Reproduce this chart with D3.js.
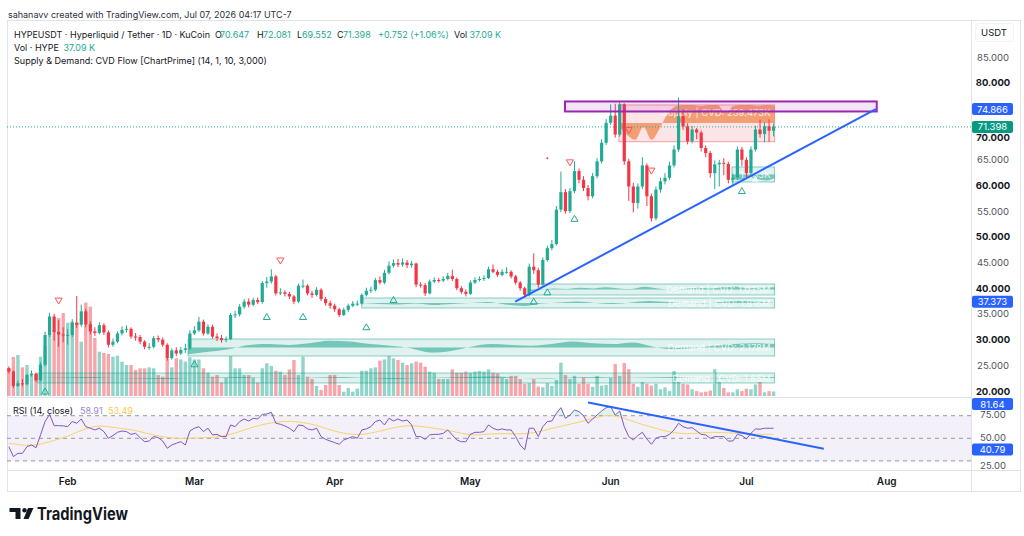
<!DOCTYPE html>
<html>
<head>
<meta charset="utf-8">
<script src="https://cdn.jsdelivr.net/npm/d3@7"></script>
<style>
body { margin: 0; background: #fff; }
text { font-family: Inter, "Noto Sans", "DejaVu Sans", sans-serif; }
</style>
</head>
<body>
<script>
// HYPEUSDT daily, Jan 19 - Jul 7 2026 (one value per day)
var firstDay = Date.UTC(2026, 0, 19);
var firstOpen = 24.4;

var closes = [
  23.8, 21.0, 21.5, 21.3, 23.1, 23.4, 22.1, 25.1, 30.9, 34.5,
  31.5, 31.0, 30.8, 30.9, 33.3, 32.9, 35.5, 33.0, 31.6, 31.3,
  32.8, 31.4, 29.0, 29.6, 31.2, 31.9, 32.1, 30.6, 30.5, 29.6,
  28.6, 28.6, 30.3, 30.0, 29.0, 26.4, 27.9, 27.3, 28.0, 28.3,
  31.2, 31.8, 33.5, 31.2, 32.5, 30.6, 30.3, 29.9, 30.1, 34.8,
  34.9, 36.4, 37.4, 36.8, 37.7, 37.3, 41.0, 41.3, 42.3, 39.0,
  39.2, 38.9, 38.4, 37.4, 40.5, 40.5, 39.0, 38.7, 39.7, 37.9,
  37.1, 36.6, 35.9, 34.8, 35.8, 36.6, 37.0, 37.0, 38.7, 39.5,
  39.7, 41.6, 41.1, 43.0, 44.4, 44.9, 44.6, 45.0, 44.5, 44.8,
  40.7, 40.6, 39.0, 41.3, 41.6, 41.5, 41.8, 42.4, 41.8, 40.0,
  39.3, 38.9, 41.1, 41.6, 41.8, 42.0, 43.7, 43.2, 42.6, 43.2,
  43.2, 42.3, 41.1, 40.0, 38.7, 44.2, 43.5, 40.7, 45.5, 47.8,
  48.6, 55.3, 58.7, 55.0, 58.9, 62.8, 61.1, 59.5, 57.9, 61.8,
  64.7, 68.3, 72.2, 73.6, 69.9, 75.8, 64.7, 59.8, 56.6, 59.8,
  63.9, 57.9, 53.6, 59.2, 60.8, 61.5, 63.9, 67.0, 73.5, 71.5,
  68.6, 70.9, 70.3, 67.3, 66.3, 62.4, 64.1, 64.4, 64.2, 61.1,
  61.5, 67.0, 65.0, 62.4, 67.0, 70.9, 70.0, 71.5, 70.647, 71.398
];
var highs = [
  24.8, 24.0, 22.0, 22.3, 23.4, 24.0, 23.6, 25.6, 31.5, 35.2,
  35.0, 33.8, 32.4, 32.0, 34.0, 38.5, 36.8, 36.0, 33.6, 32.4,
  33.4, 33.2, 31.8, 30.2, 31.6, 32.6, 32.8, 32.4, 31.3, 30.9,
  29.9, 29.3, 30.7, 30.8, 30.4, 29.3, 28.3, 28.5, 28.6, 29.2,
  31.8, 32.6, 34.4, 33.9, 33.0, 32.9, 31.2, 30.9, 30.6, 35.2,
  35.6, 36.9, 37.9, 38.0, 38.1, 38.2, 41.4, 42.2, 43.7, 42.6,
  40.0, 39.6, 39.3, 38.7, 40.9, 41.7, 40.8, 39.5, 40.2, 40.0,
  38.3, 37.6, 37.0, 36.2, 36.2, 37.0, 37.5, 37.6, 39.0, 40.1,
  40.3, 42.0, 42.3, 43.6, 45.2, 45.6, 45.7, 45.8, 45.5, 45.3,
  45.0, 41.2, 41.0, 41.7, 42.1, 42.0, 42.3, 43.0, 43.6, 42.1,
  40.4, 39.8, 41.5, 42.1, 42.3, 42.5, 44.2, 44.6, 43.6, 43.7,
  44.1, 43.5, 42.6, 41.4, 40.3, 44.8, 46.8, 44.0, 46.0, 48.3,
  49.4, 56.0, 62.7, 59.3, 59.5, 64.7, 63.3, 61.8, 60.1, 62.4,
  65.3, 69.0, 72.9, 75.8, 75.9, 76.2, 76.0, 65.2, 60.5, 60.4,
  65.5, 64.3, 58.4, 59.8, 61.5, 62.4, 64.6, 67.8, 77.1, 74.8,
  72.1, 71.6, 71.2, 70.7, 67.8, 66.7, 64.9, 65.0, 65.3, 64.6,
  62.3, 67.6, 67.5, 65.5, 67.6, 71.6, 72.8, 72.3, 72.9, 72.081
];
var lows = [
  23.4, 20.6, 20.8, 20.9, 21.1, 22.8, 21.7, 21.9, 24.8, 30.5,
  29.8, 28.6, 29.5, 29.0, 30.5, 32.3, 32.5, 32.4, 31.0, 30.7,
  31.0, 30.9, 28.5, 28.6, 29.3, 30.8, 31.4, 30.2, 29.8, 29.1,
  28.1, 28.0, 28.3, 29.5, 28.6, 25.9, 26.1, 26.8, 27.0, 27.4,
  28.0, 30.9, 31.5, 30.8, 30.9, 30.2, 29.7, 29.4, 29.5, 29.9,
  34.2, 34.5, 36.0, 36.3, 36.5, 36.9, 37.0, 40.1, 40.9, 38.6,
  38.7, 38.4, 37.9, 36.9, 37.1, 40.0, 38.6, 38.1, 38.4, 37.5,
  36.6, 36.0, 35.4, 34.4, 34.6, 35.4, 36.3, 36.5, 36.8, 38.4,
  39.1, 39.4, 40.7, 40.8, 42.7, 44.0, 44.1, 44.2, 43.9, 44.0,
  40.2, 40.1, 38.5, 38.8, 41.0, 41.1, 41.2, 41.5, 41.4, 39.6,
  38.9, 38.4, 38.7, 40.8, 41.3, 41.4, 41.8, 42.9, 42.2, 42.3,
  42.8, 41.9, 40.7, 39.5, 38.2, 38.4, 42.8, 40.1, 40.5, 45.2,
  47.4, 48.3, 54.8, 54.5, 54.6, 58.5, 60.4, 58.9, 57.1, 57.5,
  61.4, 64.3, 67.9, 71.8, 69.3, 69.5, 64.0, 57.0, 54.8, 55.5,
  59.3, 56.0, 53.0, 53.2, 58.6, 60.2, 61.1, 63.5, 66.6, 70.8,
  68.0, 68.2, 69.0, 66.6, 65.5, 61.5, 59.3, 59.8, 62.0, 60.4,
  60.1, 61.0, 63.8, 61.6, 62.0, 66.6, 69.3, 68.4, 68.5, 69.552
];
// volume in thousands of HYPE
var volumes = [
  230, 320, 336, 235, 254, 172, 172, 322, 410, 500,
  540, 640, 680, 600, 610, 600, 445, 765, 732, 475,
  363, 353, 345, 322, 330, 282, 254, 254, 213, 227,
  227, 235, 227, 172, 158, 309, 235, 309, 300, 282,
  318, 300, 300, 227, 190, 158, 172, 110, 148, 328,
  227, 227, 172, 172, 148, 110, 227, 268, 246, 207,
  200, 172, 218, 295, 172, 322, 158, 139, 82, 50,
  90, 172, 172, 90, 35, 65, 35, 60, 207, 207,
  227, 235, 290, 300, 328, 309, 295, 273, 254, 268,
  282, 273, 240, 200, 190, 139, 139, 139, 218, 190,
  190, 200, 190, 200, 205, 200, 218, 190, 185, 150,
  139, 165, 165, 139, 100, 105, 139, 77, 72, 105,
  82, 131, 273, 172, 140, 165, 100, 150, 100, 75,
  165, 85, 90, 150, 262, 165, 270, 220, 100, 75,
  115, 100, 85, 100, 55, 70, 40, 205, 115, 100,
  95, 55, 40, 30, 35, 45, 220, 115, 65, 30,
  30, 55, 40, 60, 55, 95, 115, 30, 40, 37.09
];
var rsiValues = [
  42.6, 33.8, 36.7, 36.7, 42.6, 44.1, 41.7, 53.0, 64.8, 71.2,
  61.2, 61.2, 61.0, 60.3, 64.8, 63.3, 67.1, 60.3, 58.9, 57.4,
  58.9, 55.9, 50.0, 52.4, 55.3, 56.5, 55.9, 53.5, 54.4, 50.6,
  47.0, 47.6, 51.5, 50.6, 47.6, 41.2, 44.1, 45.6, 47.0, 44.1,
  56.5, 58.9, 60.3, 55.9, 58.9, 53.0, 53.5, 51.5, 51.5, 61.8,
  60.3, 64.8, 67.1, 65.3, 67.7, 67.1, 71.2, 71.5, 73.0, 63.3,
  62.4, 61.0, 58.9, 55.9, 61.8, 61.2, 58.3, 57.4, 58.9, 51.5,
  49.1, 47.6, 46.2, 44.7, 48.5, 50.0, 51.5, 50.0, 57.4, 58.3,
  60.3, 64.8, 66.2, 61.8, 67.7, 65.3, 67.1, 65.3, 66.2, 61.8,
  51.5, 51.5, 49.1, 53.0, 53.5, 53.5, 54.4, 57.4, 53.0, 48.5,
  47.0, 47.0, 53.5, 55.3, 55.3, 55.9, 61.8, 58.9, 57.4, 58.3,
  57.4, 57.4, 51.5, 44.1, 39.7, 58.9, 58.9, 51.5, 60.3, 64.8,
  65.3, 72.1, 77.1, 67.7, 70.6, 75.1, 73.6, 70.0, 63.3, 67.1,
  70.6, 74.2, 77.1, 78.0, 70.6, 74.2, 60.3, 51.5, 48.5, 52.4,
  55.3, 49.4, 44.7, 50.0, 51.5, 51.5, 53.5, 57.4, 63.3, 60.3,
  58.9, 59.4, 56.5, 53.5, 53.0, 50.0, 51.5, 51.5, 51.5, 47.6,
  47.6, 53.5, 52.4, 49.4, 54.4, 58.3, 58.0, 58.9, 58.9, 58.91
];
// RSI-based moving average, read at these day indices
var rsiMaDays = [0, 5, 9, 13, 17, 20, 24, 28, 31, 35, 39, 42, 46, 50, 53, 57, 61, 64, 68, 72,
  76, 79, 83, 87, 90, 94, 98, 102, 105, 109, 113, 117, 120, 124, 128, 132, 135, 139, 143, 146,
  150, 154, 157, 161, 165, 169];
var rsiMaValues = [45.6, 42.6, 47.0, 51.5, 58.9, 61.8, 58.9, 57.4, 53.5, 50.6, 49.4, 50.6, 50.6, 54.4, 58.9, 63.3, 65.3, 64.8, 61.8, 55.9,
  53.0, 53.5, 57.4, 61.2, 61.2, 58.9, 56.5, 52.4, 53.5, 54.4, 53.5, 55.3, 58.9, 62.4, 66.2, 71.2, 69.2, 63.3, 58.9, 55.3,
  53.5, 55.3, 55.3, 54.4, 53.5, 53.49];

// CVD Flow zones (prices), start day index, all end at the last bar
var zoneKinds = ["Supply", "Demand", "Demand", "Demand", "Demand", "Demand"];
var zoneTops = [75.67, 63.6, 40.83, 38.1, 30.12, 23.5];
var zoneBottoms = [68.52, 60.68, 38.68, 36.15, 26.81, 21.56];
var zoneStarts = [134.8, 159.8, 114.7, 78.0, 39.6, 6.4];
var zoneLabels = ["Supply | CVD: 259.473K", "71.283K", "Demand | CVD: 1.035M", "Demand | CVD: 1.816M",
  "Demand | CVD: 2.178M", "Demand | CVD: 1.65M"];
// CVD wave inside each zone, 0 = zone bottom, 1 = zone top, evenly spread across the zone
var zoneWaves = [
  [0.43, 0.19, 0.05, 0.40, 0.05, 0.37, 0.78, 0.97, 1.0, 1.0, 0.97, 1.0, 1.0, 0.81, 0.97, 1.0, 1.0, 0.97, 1.0, 0.97],
  [0.2, 0.15, 0.3, 0.2, 0.1, 0.25],
  [0.3, 0.45, 0.6, 0.55, 0.65, 0.6, 0.7, 0.6, 0.55, 0.75, 0.6, 0.5, 0.55, 0.65, 0.6, 0.7, 0.75, 0.6, 0.65, 0.7],
  [0.5, 0.4, 0.35, 0.45, 0.3, 0.4, 0.5, 0.6, 0.35, 0.2, 0.45, 0.55, 0.65, 0.5, 0.4, 0.55, 0.7, 0.6, 0.5, 0.45, 0.6, 0.7, 0.65, 0.5],
  [0.1, 0.25, 0.4, 0.65, 0.7, 0.65, 0.75, 0.9, 0.85, 0.7, 0.6, 0.45, 0.2, 0.3, 0.55, 0.7, 0.65, 0.6, 0.7, 0.85,
    0.75, 0.7, 0.8, 0.55, 0.4, 0.45, 0.6, 0.7, 0.75, 0.7],
  [0.5, 0.55, 0.6, 0.5, 0.45, 0.4, 0.5, 0.55, 0.6, 0.5, 0.45, 0.55, 0.6, 0.5, 0.4, 0.5, 0.55, 0.6, 0.65, 0.5,
    0.45, 0.55, 0.6, 0.5, 0.55, 0.6, 0.5, 0.45, 0.55, 0.6]
];
var zoneMids = [72.16, 62.14, 39.75, 37.12, 28.46, 22.53];

// signal markers
var signalDays = [11, 60, 124, 137, 142, 8, 41, 57, 65, 79, 85, 116, 119, 125, 162, 165];
var signalPrices = [37.5, 45.3, 64.4, 70.7, 62.8, 20.0, 25.3, 34.5, 34.5, 32.5, 37.8, 37.5, 39.3, 53.6, 59.0, 61.3];
var signalDirs = ["down", "down", "down", "down", "down", "up", "up", "up", "up", "up", "up", "up", "up", "up", "up", "upfill"];

// drawn trend lines: [day, value]
var priceTrend = [[111.9, 37.373], [191.6, 74.866]];
var rsiTrend = [[128, 81.64], [180.1, 40.79]];
var rangeBoxDays = [122.9, 191.8];
var rangeBoxPrices = [76.35, 74.4];

// 75.000 sits fully under the 74.866 label in the original, so it is not listed
var priceTicks = [85, 80, 70, 65, 60, 55, 50, 45, 40, 35, 30, 25, 20];
var rsiTicks = [75, 50, 25];
var monthTicks = [Date.UTC(2026, 1, 1), Date.UTC(2026, 2, 1), Date.UTC(2026, 3, 1), Date.UTC(2026, 4, 1),
  Date.UTC(2026, 5, 1), Date.UTC(2026, 6, 1), Date.UTC(2026, 7, 1)];
var monthLabels = ["Feb", "Mar", "Apr", "May", "Jun", "Jul", "Aug"];

var upColor = "#22ab94", downColor = "#f23645", ink = "#131722";
var left = 7, right = 971, paneTop = 20, paneBottom = 397, rsiBottom = 470, frameBottom = 491;

function dayDate(i) { return new Date(firstDay + i * 864e5); }

var x = d3.scaleUtc()
    .domain([new Date(Date.UTC(2026, 1, 1)), new Date(Date.UTC(2026, 7, 1))])
    .range([67.7, 886.7]);
var y = d3.scaleLinear().domain([20, 80]).range([391, 82.7]);
var yVol = d3.scaleLinear().domain([0, 800]).range([396, 298.4]);
var yRsi = d3.scaleLinear().domain([30, 70]).range([460.9, 415.7]);

var bars = closes.map(function(c, i) {
  var o = i === 0 ? firstOpen : closes[i - 1];
  return { i: i, date: dayDate(i), o: o, h: highs[i], l: lows[i], c: c, v: volumes[i], up: c >= o };
});

var svg = d3.select("body").append("svg")
    .attr("width", 1024)
    .attr("height", 536);

svg.append("defs").append("clipPath").attr("id", "pane")
  .append("rect").attr("x", left).attr("y", paneTop).attr("width", right - left).attr("height", paneBottom - paneTop);
svg.select("defs").append("clipPath").attr("id", "rsipane")
  .append("rect").attr("x", left).attr("y", paneBottom).attr("width", right - left).attr("height", rsiBottom - paneBottom);

// put a text at x and scale its font so it spans the given width
function fitText(xPos, yPos, width, str, col) {
  var t = svg.append("text").attr("x", xPos).attr("y", yPos).attr("font-size", 10).attr("fill", col || ink).text(str);
  t.attr("font-size", 10 * width / t.node().getComputedTextLength());
  return t;
}
function plainText(xPos, yPos, size, str, col) {
  return svg.append("text").attr("x", xPos).attr("y", yPos).attr("font-size", size).attr("fill", col || ink).text(str);
}

// header
fitText(8, 17.5, 284, "sahanavv created with TradingView.com, Jul 07, 2026 04:17 UTC-7", "#2a2e39");

// frame
svg.append("rect").attr("x", left + 0.5).attr("y", paneTop + 0.5).attr("width", 1013).attr("height", frameBottom - paneTop)
  .attr("fill", "none").attr("stroke", "#e0e3eb");
svg.append("line").attr("x1", right + 0.5).attr("x2", right + 0.5).attr("y1", paneTop).attr("y2", frameBottom)
  .attr("stroke", "#e0e3eb");
svg.append("line").attr("x1", left).attr("x2", right).attr("y1", paneBottom + 0.5).attr("y2", paneBottom + 0.5)
  .attr("stroke", "#e0e3eb");
svg.append("line").attr("x1", left).attr("x2", 1020).attr("y1", rsiBottom + 0.5).attr("y2", rsiBottom + 0.5)
  .attr("stroke", "#e0e3eb");

var pane = svg.append("g").attr("clip-path", "url(#pane)");

// volume
pane.selectAll(".vol").data(bars).enter().append("rect")
    .attr("class", "vol")
    .attr("x", function(d) { return x(d.date) - 1.7; })
    .attr("width", 3.4)
    .attr("y", function(d) { return yVol(d.v); })
    .attr("height", function(d) { return yVol(0) - yVol(d.v); })
    .attr("fill", function(d) { return d.up ? "rgba(34,171,148,0.5)" : "rgba(242,54,69,0.45)"; });

// supply / demand zones
zoneKinds.forEach(function(kind, k) {
  var x0 = x(dayDate(zoneStarts[k])), x1 = x(dayDate(169)) + 1;
  var yt = y(zoneTops[k]), yb = y(zoneBottoms[k]);
  var supply = kind === "Supply";
  pane.append("rect")
    .attr("x", x0).attr("y", yt).attr("width", x1 - x0).attr("height", yb - yt)
    .attr("fill", supply ? "rgba(242,54,69,0.13)" : "rgba(8,153,129,0.13)")
    .attr("stroke", supply ? "rgba(242,54,69,0.45)" : "rgba(8,153,129,0.45)");
  var wave = zoneWaves[k];
  var wx = d3.scaleLinear().domain([0, wave.length - 1]).range([x0, x1]);
  var area = d3.area()
      .x(function(d, j) { return wx(j); })
      .y0(y(zoneMids[k]))
      .y1(function(d) { return yb + (yt - yb) * d; })
      .curve(d3.curveMonotoneX);
  pane.append("path").datum(wave).attr("d", area)
    .attr("fill", supply ? "rgba(240,128,70,0.7)" : "rgba(8,153,129,0.5)");
  pane.append("text")
    .attr("x", x1 - 4).attr("y", supply ? y(zoneTops[k]) + 11 : (yt + yb) / 2 + 3.5)
    .attr("text-anchor", "end").attr("font-size", 9.5)
    .attr("fill", "rgba(255,255,255,0.85)")
    .text(zoneLabels[k]);
});

// current price line
pane.append("line").attr("x1", left).attr("x2", right)
  .attr("y1", y(71.398)).attr("y2", y(71.398))
  .attr("stroke", upColor).attr("stroke-dasharray", "1,2");

// candles
var candles = pane.selectAll(".candle").data(bars).enter().append("g").attr("class", "candle");
candles.append("line")
    .attr("x1", function(d) { return x(d.date); })
    .attr("x2", function(d) { return x(d.date); })
    .attr("y1", function(d) { return y(d.h); })
    .attr("y2", function(d) { return y(d.l); })
    .attr("stroke", function(d) { return d.up ? upColor : downColor; });
candles.append("rect")
    .attr("x", function(d) { return x(d.date) - 1.6; })
    .attr("width", 3.2)
    .attr("y", function(d) { return y(Math.max(d.o, d.c)); })
    .attr("height", function(d) { return Math.max(1, Math.abs(y(d.o) - y(d.c))); })
    .attr("fill", function(d) { return d.up ? upColor : downColor; });

// range box and trend line
var bx0 = x(dayDate(rangeBoxDays[0])), bx1 = x(dayDate(rangeBoxDays[1]));
pane.append("rect").attr("x", bx0).attr("y", y(rangeBoxPrices[0]))
  .attr("width", bx1 - bx0).attr("height", y(rangeBoxPrices[1]) - y(rangeBoxPrices[0]))
  .attr("fill", "rgba(156,39,176,0.12)").attr("stroke", "#9c27b0").attr("stroke-width", 2);

var trendLine = d3.line()
    .x(function(d) { return x(dayDate(d[0])); })
    .y(function(d) { return y(d[1]); });
pane.append("path").attr("d", trendLine(priceTrend))
  .attr("stroke", "#2962ff").attr("stroke-width", 2).attr("fill", "none");

// signal markers
signalDays.forEach(function(d, k) {
  var cx = x(dayDate(d)), cy = y(signalPrices[k]);
  var dir = signalDirs[k];
  var pts = dir === "down"
    ? [[cx - 3.5, cy - 3], [cx + 3.5, cy - 3], [cx, cy + 3]]
    : [[cx - 3.5, cy + 3], [cx + 3.5, cy + 3], [cx, cy - 3]];
  pane.append("path").attr("d", "M" + pts.join("L") + "Z")
    .attr("fill", dir === "upfill" ? "rgba(255,255,255,0.8)" : "none")
    .attr("stroke", dir === "down" ? "#f7525f" : (dir === "upfill" ? "none" : "#22ab94"))
    .attr("stroke-width", 1);
});
pane.append("circle").attr("cx", x(dayDate(119))).attr("cy", y(65.3)).attr("r", 1).attr("fill", "#f23645");

// RSI pane
var rsiG = svg.append("g").attr("clip-path", "url(#rsipane)");
rsiG.append("rect").attr("x", left).attr("width", right - left)
  .attr("y", yRsi(70)).attr("height", yRsi(30) - yRsi(70)).attr("fill", "rgba(126,87,194,0.09)");
[70, 50, 30].forEach(function(v) {
  rsiG.append("line").attr("x1", left).attr("x2", right).attr("y1", yRsi(v)).attr("y2", yRsi(v))
    .attr("stroke", "#9598a1").attr("stroke-dasharray", "4,4").attr("stroke-width", 1);
});
var rsiPts = bars.map(function(d) { return { date: d.date, r: rsiValues[d.i] }; });
rsiG.append("path").datum(rsiPts)
  .attr("d", d3.area()
    .x(function(d) { return x(d.date); })
    .y0(yRsi(70))
    .y1(function(d) { return yRsi(Math.max(70, d.r)); }))
  .attr("fill", "rgba(34,171,148,0.15)");
rsiG.append("path").datum(rsiMaDays)
  .attr("d", d3.line()
    .x(function(d) { return x(dayDate(d)); })
    .y(function(d, j) { return yRsi(rsiMaValues[j]); })
    .curve(d3.curveBasis))
  .attr("fill", "none").attr("stroke", "#f6d36b").attr("stroke-width", 1);
rsiG.append("path").datum(rsiPts)
  .attr("d", d3.line().x(function(d) { return x(d.date); }).y(function(d) { return yRsi(d.r); }))
  .attr("fill", "none").attr("stroke", "#7e57c2").attr("stroke-width", 1);
rsiG.append("path")
  .attr("d", d3.line().x(function(d) { return x(dayDate(d[0])); }).y(function(d) { return yRsi(d[1]); })(rsiTrend))
  .attr("stroke", "#2962ff").attr("stroke-width", 2).attr("fill", "none");

// RSI legend
var rsiFont = +fitText(13, 413.5, 60, "RSI (14, close)").attr("font-size");
plainText(80, 413.5, rsiFont, "58.91", "#9b87d4");
plainText(108, 413.5, rsiFont, "53.49", "#f2cb4c");

// main legend
var lf = +fitText(14, 37.5, 196, "HYPEUSDT · Hyperliquid / Tether · 1D · KuCoin").attr("font-size");
[["O", 215, 0], ["70.647", 220, 1], ["H", 257, 0], ["72.081", 263, 1], ["L", 297, 0], ["69.552", 302, 1],
  ["C", 337, 0], ["71.398", 343, 1], ["+0.752 (+1.06%)", 378, 1], ["Vol", 454, 0], ["37.09 K", 469.5, 1]]
  .forEach(function(p) { plainText(p[1], 37.5, lf, p[0], p[2] ? upColor : ink); });
plainText(14, 50.5, lf, "Vol · HYPE");
plainText(63.5, 50.5, lf, "37.09 K", upColor);
fitText(14, 63.5, 253, "Supply & Demand: CVD Flow [ChartPrime] (14, 1, 10, 3,000)");

// price axis
svg.append("rect").attr("x", 975.5).attr("y", 23.5).attr("width", 38).attr("height", 18).attr("rx", 3)
  .attr("fill", "#fff").attr("stroke", "#f0f3fa");
svg.append("text").attr("x", 994).attr("y", 36).attr("text-anchor", "middle").attr("font-size", 9.5)
  .attr("fill", ink).text("USDT");
svg.selectAll(".ptick").data(priceTicks).enter().append("text")
    .attr("class", "ptick")
    .attr("x", 993)
    // 70.000 is partly covered by the last-price label; nudge it just below
    .attr("y", function(d) { return (d === 70 ? y(d) + 3 : y(d)) + 3.5; })
    .attr("text-anchor", "middle").attr("font-size", 9.5)
    .attr("font-weight", function(d) { return d % 10 === 0 ? 700 : 400; })
    .attr("fill", function(d) { return d % 10 === 0 ? ink : "#50535e"; })
    .text(function(d) { return d3.format(".3f")(d); });
svg.selectAll(".rtick").data(rsiTicks).enter().append("text")
    .attr("class", "rtick")
    .attr("x", 993).attr("y", function(d) { return (d === 75 ? 414.5 : d === 50 ? 437 : 465) + 3.5; })
    .attr("text-anchor", "middle").attr("font-size", 9.5).attr("fill", "#50535e")
    .text(function(d) { return d3.format(".2f")(d); });

function priceLabel(yPos, txt, col) {
  svg.append("rect").attr("x", 972).attr("y", yPos - 6).attr("width", 41).attr("height", 12).attr("rx", 2)
    .attr("fill", col);
  svg.append("text").attr("x", 992.5).attr("y", yPos + 3.5).attr("text-anchor", "middle").attr("font-size", 9.5)
    .attr("fill", "#fff").text(txt);
}
priceLabel(y(74.866), "74.866", "#2962ff");
priceLabel(y(71.398), "71.398", "#089981");
priceLabel(y(37.373), "37.373", "#2962ff");
priceLabel(404, "81.64", "#2962ff");
priceLabel(449.5, "40.79", "#2962ff");

// time axis
svg.selectAll(".mtick").data(monthTicks).enter().append("text")
    .attr("class", "mtick")
    .attr("x", function(d) { return x(new Date(d)); })
    .attr("y", 484.5)
    .attr("text-anchor", "middle").attr("font-size", 10).attr("font-weight", 600).attr("fill", ink)
    .text(function(d, i) { return monthLabels[i]; });

// TradingView logo
var logo = svg.append("g").attr("fill", ink);
logo.append("path").attr("d", "M9.5 508 H20.5 V519 H15.5 V512 H9.5 Z");
logo.append("circle").attr("cx", 24.5).attr("cy", 510.2).attr("r", 2.2);
logo.append("path").attr("d", "M28 508 H33.5 L28.5 519 H23.5 Z");
svg.append("text").attr("x", 37).attr("y", 519.5).attr("font-size", 17).attr("font-weight", 700)
  .attr("fill", ink).attr("textLength", 91).attr("lengthAdjust", "spacingAndGlyphs").text("TradingView");
</script>
</body>
</html>
